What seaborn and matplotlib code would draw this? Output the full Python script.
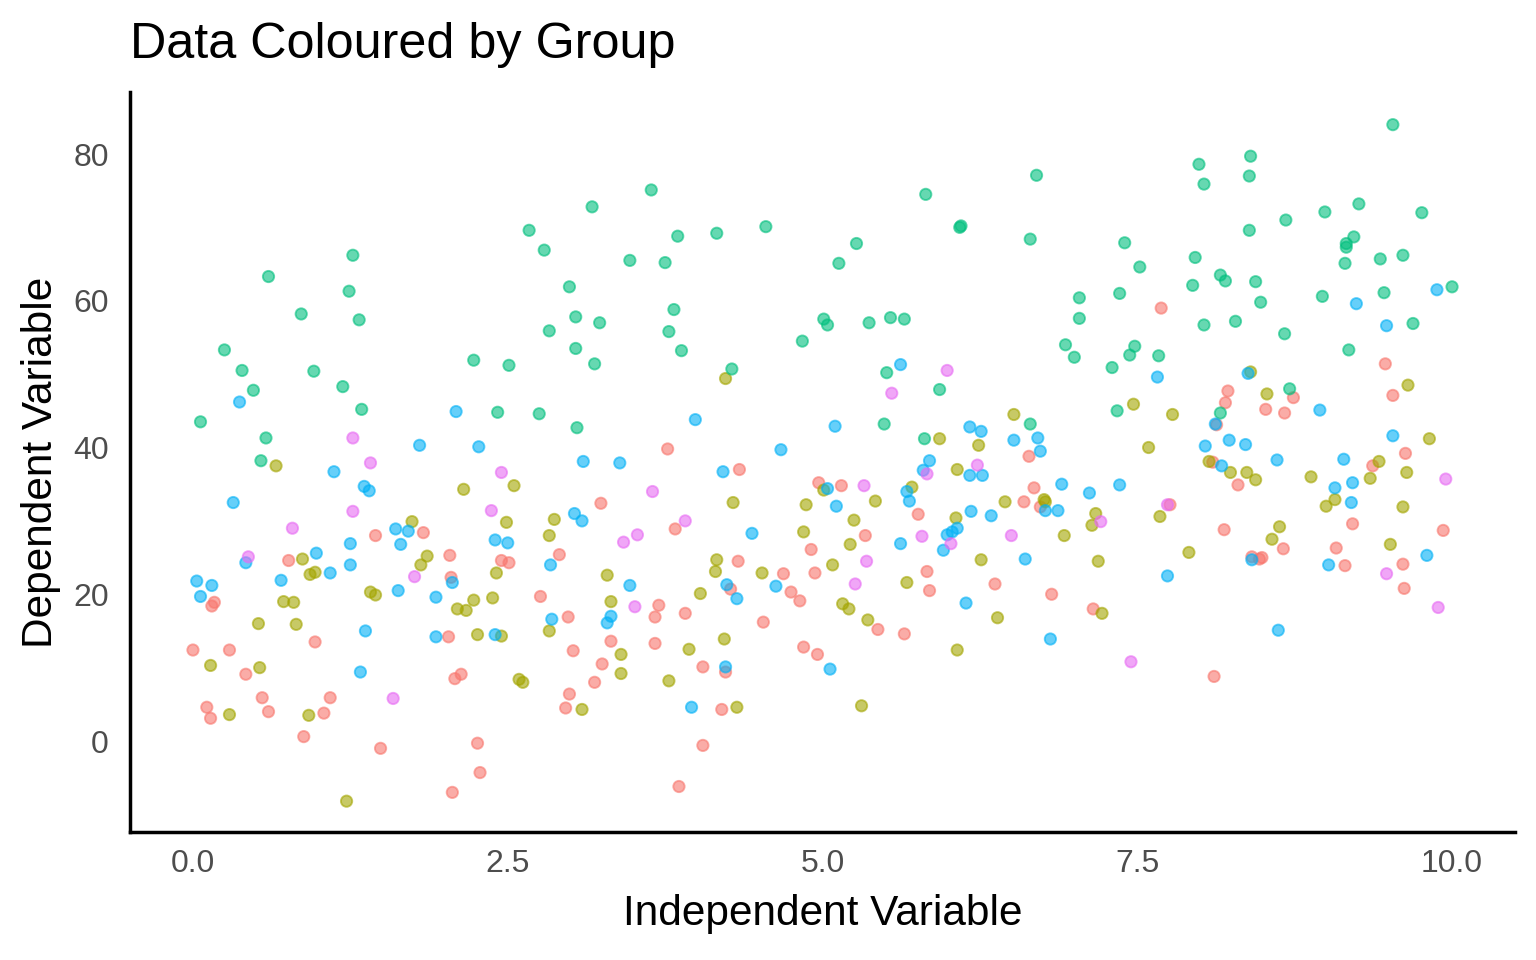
import pandas as pd
import seaborn as sns
import matplotlib.pyplot as plt

# Values
red_x = [7.69, 3.24, 1.45, 1.83, 2.91, 0.76, 2.04, 2.45, 2.51, 2.05,
         0.17, 0.15, 2.76, 6.64, 3.77, 4.34, 6.68, 4.97, 5.15, 5.76,
         6.60, 6.73, 3.83, 5.34, 4.91, 4.33, 4.69, 4.94, 5.83, 6.37,
         6.82, 4.27, 4.75, 5.85, 4.82, 3.70, 9.47, 9.53, 8.22, 8.20,
         8.74, 8.52, 8.67, 8.13, 9.63, 9.37, 8.10, 8.30, 7.76, 8.19,
         9.21, 9.93, 9.08, 8.66, 8.41, 8.47, 8.49, 9.15, 9.61, 9.62,
         2.98, 3.02, 3.25, 3.19, 2.99, 2.96, 2.03, 0.97, 0.00, 0.29,
         0.42, 2.13, 2.08, 0.55, 1.09, 0.11, 0.14, 0.60, 1.04, 0.88,
         1.49, 2.26, 2.28, 2.06, 3.67, 3.91, 4.53, 5.44, 5.65, 3.32,
         3.67, 4.85, 4.96, 4.05, 4.23, 4.20, 4.05, 3.86, 7.15, 8.11]
red_y = [59.0, 32.4, 28.0, 28.4, 25.4, 24.6, 25.3, 24.6, 24.3, 22.3,
         18.9, 18.4, 19.7, 38.8, 39.8, 37.0, 34.5, 35.2, 34.8, 30.9,
         32.6, 31.9, 28.9, 28.0, 26.1, 24.5, 22.8, 22.9, 23.1, 21.4,
         20.0, 20.7, 20.3, 20.5, 19.1, 18.5, 51.4, 47.1, 47.7, 46.1,
         46.8, 45.2, 44.7, 43.1, 39.2, 37.5, 38.0, 34.9, 32.2, 28.8,
         29.6, 28.7, 26.3, 26.2, 25.1, 24.8, 25.0, 23.9, 24.1, 20.8,
         16.9, 12.3, 10.5, 8.0, 6.4, 4.5, 14.2, 13.5, 12.4, 12.4,
         9.1, 9.1, 8.5, 5.9, 5.9, 4.6, 3.1, 4.0, 3.8, 0.6,
         -1.0, -0.3, -4.3, -7.0, 16.9, 17.4, 16.2, 15.2, 14.6, 13.6,
         13.3, 12.8, 11.8, 10.1, 9.4, 4.3, -0.6, -6.2, 18.0, 8.8]

olive_x = [0.66, 2.55, 2.15, 2.87, 2.49, 1.74, 2.83, 0.87, 1.86, 1.81,
           0.93, 0.97, 2.41, 1.41, 1.45, 0.72, 0.80, 2.10, 2.17, 2.23,
           2.38, 2.83, 3.09, 0.52, 0.82, 2.26, 2.45, 0.14, 0.53, 2.59,
           2.62, 0.29, 0.92, 1.22, 4.23, 6.52, 5.93, 6.24, 6.07, 4.29,
           5.01, 4.87, 5.42, 5.71, 6.45, 6.76, 6.77, 6.06, 5.25, 4.85,
           5.22, 6.92, 4.16, 4.15, 5.08, 6.26, 3.29, 4.52, 5.67, 4.03,
           3.32, 5.16, 5.21, 5.36, 6.39, 3.40, 3.94, 4.22, 6.07, 3.40,
           3.78, 4.32, 5.31, 9.65, 8.40, 8.53, 7.47, 7.78, 7.59, 9.82,
           9.42, 9.35, 9.64, 8.07, 8.24, 8.37, 8.44, 8.88, 9.07, 9.00,
           9.61, 7.68, 7.17, 7.14, 8.63, 8.57, 9.51, 7.91, 7.19, 7.22]
olive_y = [37.5, 34.8, 34.3, 30.2, 29.8, 29.9, 28.0, 24.8, 25.2, 24.0,
           22.7, 23.0, 22.9, 20.3, 19.9, 19.0, 18.9, 18.0, 17.8, 19.2,
           19.5, 15.0, 4.3, 16.0, 15.9, 14.5, 14.3, 10.3, 10.0, 8.4,
           8.0, 3.6, 3.5, -8.2, 49.4, 44.5, 41.2, 40.3, 37.0, 32.5,
           34.2, 32.2, 32.7, 34.6, 32.6, 32.9, 32.6, 30.4, 30.1, 28.5,
           26.8, 28.0, 24.7, 23.1, 24.0, 24.7, 22.6, 22.9, 21.6, 20.1,
           19.0, 18.7, 18.0, 16.5, 16.8, 11.8, 12.5, 13.9, 12.4, 9.2,
           8.2, 4.6, 4.8, 48.5, 50.3, 47.3, 45.9, 44.5, 40.0, 41.2,
           38.1, 35.8, 36.6, 38.1, 36.6, 36.6, 35.6, 36.0, 32.9, 32.0,
           31.9, 30.6, 31.0, 29.4, 29.2, 27.5, 26.8, 25.7, 24.5, 17.4]

green_x = [3.17, 2.67, 2.79, 1.27, 0.60, 1.24, 2.99, 0.86, 1.32, 3.04,
           3.23, 2.83, 0.25, 3.04, 6.70, 3.64, 5.82, 6.10, 6.09, 4.55,
           3.85, 4.16, 6.65, 5.27, 3.47, 3.75, 5.13, 3.82, 3.78, 5.01,
           5.04, 5.37, 5.54, 5.65, 4.84, 3.88, 9.53, 8.40, 7.99, 8.03,
           8.39, 9.26, 8.99, 9.76, 8.68, 8.39, 7.40, 9.22, 9.16, 9.16,
           7.96, 9.43, 9.61, 7.52, 9.15, 8.16, 8.20, 8.44, 7.94, 7.04,
           7.36, 8.48, 8.97, 9.46, 10.00, 7.04, 8.03, 8.28, 8.67, 9.69,
           6.93, 7.48, 9.18, 0.39, 0.48, 0.96, 1.19, 1.34, 0.06, 2.23,
           2.51, 3.19, 2.42, 2.75, 3.05, 0.58, 0.54, 4.28, 5.51, 5.49,
           6.65, 5.81, 5.93, 7.00, 7.44, 7.67, 7.30, 8.71, 8.16, 7.34]
green_y = [72.8, 69.6, 66.9, 66.2, 63.3, 61.3, 61.9, 58.2, 57.4, 57.8,
           57.0, 55.9, 53.3, 53.5, 77.1, 75.1, 74.5, 70.2, 70.0, 70.1,
           68.8, 69.2, 68.4, 67.8, 65.5, 65.2, 65.1, 58.8, 55.8, 57.5,
           56.7, 57.0, 57.7, 57.5, 54.5, 53.2, 84.0, 79.7, 78.6, 75.9,
           77.0, 73.2, 72.1, 72.0, 71.0, 69.6, 67.9, 68.7, 67.8, 67.3,
           65.9, 65.7, 66.2, 64.6, 65.1, 63.5, 62.7, 62.6, 62.1, 60.4,
           61.0, 59.8, 60.6, 61.1, 61.9, 57.6, 56.7, 57.2, 55.5, 56.9,
           54.0, 53.8, 53.3, 50.5, 47.8, 50.4, 48.3, 45.2, 43.5, 51.9,
           51.2, 51.4, 44.8, 44.6, 42.7, 41.3, 38.2, 50.7, 50.2, 43.2,
           43.2, 41.2, 47.9, 52.3, 52.6, 52.5, 50.9, 48.0, 44.7, 45.0]

blue_x = [9.24, 9.88, 9.48, 0.37, 2.09, 1.80, 2.27, 3.10, 1.12, 1.36,
          1.40, 0.32, 3.03, 3.09, 1.61, 1.71, 2.40, 2.50, 1.25, 1.65,
          0.98, 0.42, 1.25, 2.84, 1.09, 2.06, 0.03, 0.15, 0.70, 1.63,
          0.06, 1.93, 5.62, 3.99, 5.10, 6.17, 6.26, 6.52, 6.71, 6.73,
          4.67, 3.39, 4.21, 5.85, 5.80, 6.17, 6.27, 6.90, 5.04, 5.11,
          5.67, 5.69, 6.77, 6.87, 6.18, 6.34, 6.07, 6.03, 5.99, 4.44,
          5.62, 5.96, 6.61, 3.47, 4.24, 4.63, 4.32, 6.14, 6.81, 7.66,
          8.38, 8.95, 8.12, 8.04, 8.23, 8.36, 9.53, 8.61, 9.14, 8.17,
          9.07, 9.21, 9.20, 7.12, 7.36, 8.41, 9.02, 9.80, 7.74, 3.32,
          3.29, 4.23, 5.06, 3.96, 8.62, 1.37, 1.93, 2.40, 1.33, 2.85]
blue_y = [59.6, 61.5, 56.6, 46.2, 44.9, 40.3, 40.1, 38.1, 36.7, 34.7,
          34.1, 32.5, 31.0, 30.0, 28.9, 28.6, 27.4, 27.0, 26.9, 26.8,
          25.6, 24.3, 24.0, 24.0, 22.9, 21.6, 21.8, 21.2, 21.9, 20.5,
          19.7, 19.6, 51.3, 43.8, 42.9, 42.8, 42.2, 41.0, 41.3, 39.5,
          39.7, 37.9, 36.7, 38.2, 36.9, 36.2, 36.2, 35.0, 34.4, 32.0,
          34.0, 32.7, 31.4, 31.4, 31.3, 30.7, 29.0, 28.5, 28.1, 28.3,
          26.9, 26.0, 24.8, 21.2, 21.3, 21.1, 19.4, 18.8, 13.9, 49.6,
          50.1, 45.1, 43.2, 40.2, 41.0, 40.4, 41.6, 38.3, 38.4, 37.5,
          34.5, 35.2, 32.5, 33.8, 34.9, 24.7, 24.0, 25.3, 22.5, 17.0,
          16.1, 10.1, 9.8, 4.6, 15.1, 15.0, 14.2, 14.5, 9.4, 16.6]

pink_x = [1.27, 1.41, 2.45, 1.27, 2.37, 0.79, 0.44, 1.76, 1.59, 5.99,
          5.55, 5.83, 6.23, 3.65, 5.33, 3.91, 5.79, 3.53, 3.42, 6.02,
          6.50, 5.35, 5.26, 9.95, 7.74, 7.21, 9.48, 3.51, 7.45, 9.89]
pink_y = [41.3, 37.9, 36.6, 31.3, 31.4, 29.0, 25.1, 22.4, 5.8, 50.5,
          47.4, 36.4, 37.6, 34.0, 34.8, 30.0, 27.9, 28.1, 27.1, 26.9,
          28.0, 24.5, 21.4, 35.7, 32.2, 29.9, 22.8, 18.3, 10.8, 18.2]

groups = ['A', 'B', 'C', 'D', 'E']
colours = ['#F8766D', '#A3A500', '#00BF7D', '#00B0F6', '#E76BF3']
x_ticks = [0, 2.5, 5, 7.5, 10]
x_labels = ['0.0', '2.5', '5.0', '7.5', '10.0']
y_ticks = [0, 20, 40, 60, 80]

frames = []
for g, xs, ys in zip(groups,
                     [red_x, olive_x, green_x, blue_x, pink_x],
                     [red_y, olive_y, green_y, blue_y, pink_y]):
    frames.append(pd.DataFrame({'x': xs, 'y': ys, 'group': g}))
df = pd.concat(frames, ignore_index=True)

sns.set_style('white')
plt.rcParams['font.family'] = ['Liberation Sans', 'DejaVu Sans']
plt.rcParams['text.color'] = 'black'
plt.rcParams['axes.labelcolor'] = 'black'

fig = plt.figure(figsize=(8, 5), dpi=192)
ax = fig.add_axes([130 / 1536, 1 - 832 / 960, 1385 / 1536, 740 / 960])

sns.scatterplot(data=df, x='x', y='y', hue='group', hue_order=groups,
                palette=dict(zip(groups, colours)), alpha=0.6, s=18,
                linewidth=0.7, edgecolor='face', legend=False, ax=ax)

ax.set_xlim(-0.5, 10.5)
ax.set_ylim(-12.4, 88.45)
ax.set_xticks(x_ticks)
ax.set_xticklabels(x_labels)
ax.set_yticks(y_ticks)
ax.tick_params(axis='both', length=0, labelsize=12, labelcolor='#4D4D4D')
ax.tick_params(axis='x', pad=6.5)
ax.tick_params(axis='y', pad=7.9)

for side in ['top', 'right']:
    ax.spines[side].set_visible(False)
for side in ['left', 'bottom']:
    ax.spines[side].set_color('black')
    ax.spines[side].set_linewidth(1.3)

ax.set_xlabel('Independent Variable', fontsize=15.9, labelpad=5.5, color='black')
ax.set_ylabel('Dependent Variable', fontsize=15.9, labelpad=4.5, color='black')
ax.set_title('Data Coloured by Group', loc='left', fontsize=18.9, pad=12.7,
             color='black')

plt.savefig('out.png', dpi=192)
